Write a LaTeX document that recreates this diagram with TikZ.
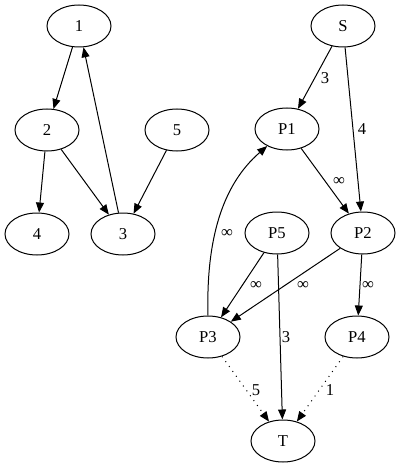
\documentclass[tikz,border=0pt]{standalone}
\usepackage{fontspec}
\setmainfont{Liberation Serif}
\usetikzlibrary{shapes.geometric,arrows.meta}
\begin{document}
\begin{tikzpicture}[x=1pt,y=-1pt,
  vert/.style={draw,ellipse,line width=1pt,minimum width=64pt,minimum height=42pt,inner sep=0pt,font=\fontsize{16.6}{19}\selectfont},
  e/.style={draw,line width=1pt,-{Triangle[length=10pt,width=8pt]}},
  dot/.style={e,dash pattern=on 1pt off 5pt},
  lbl/.style={inner sep=0pt,font=\fontsize{16.6}{19}\selectfont}]
\useasboundingbox (0,0) rectangle (400,468);
% left graph
\node[vert] (n1) at (79,26) {1};
\node[vert] (n2) at (47,130) {2};
\node[vert] (n5) at (177,130) {5};
\node[vert] (n4) at (37,234) {4};
\node[vert] (n3) at (123,234) {3};
\draw[e] (n1) -- (n2);
\draw[e] (n2) -- (n4);
\draw[e] (n2) -- (n3);
\draw[e] (n5) -- (n3);
\draw[e] (n3) -- (n1);
% right graph
\node[vert] (S) at (343,26) {S};
\node[vert] (P1) at (287,129) {P1};
\node[vert] (P5) at (277,233) {P5};
\node[vert] (P2) at (363,233) {P2};
\node[vert] (P3) at (208,337) {P3};
\node[vert] (P4) at (357,337) {P4};
\node[vert] (T) at (283,441) {T};
\draw[e] (S) -- (P1);
\draw[e] (S) -- (P2);
\draw[e] (P1) -- (P2);
\draw[e] (P3.north) .. controls (206,240) and (222,185) .. (P1);
\draw[e] (P5) -- (P3);
\draw[e] (P2) -- (P3);
\draw[e] (P2) -- (P4);
\draw[e] (P5) -- (T);
\draw[dot] (P3) -- (T);
\draw[dot] (P4) -- (T);
% labels
\node[lbl] (l1) at (325,78) {3};
\node[lbl] (l2) at (362,129) {4};
\node[lbl] (l3) at (339,182) {∞};
\node[lbl] (l4) at (227,234) {∞};
\node[lbl] (l5) at (256,286) {∞};
\node[lbl] (l6) at (303,286) {∞};
\node[lbl] (l7) at (368,286) {∞};
\node[lbl] (l8) at (286,337) {3};
\node[lbl] (l9) at (256,390) {5};
\node[lbl] (l10) at (330,390) {1};
\end{tikzpicture}
\end{document}
